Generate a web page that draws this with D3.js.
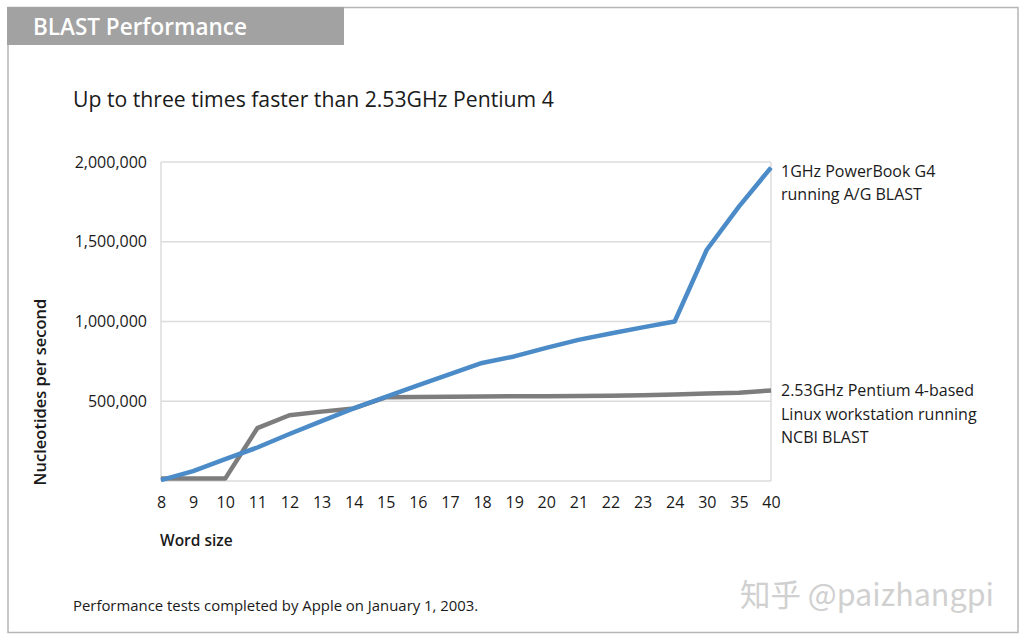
<!DOCTYPE html>
<html>
<head>
<meta charset="utf-8">
<script src="https://cdn.jsdelivr.net/npm/d3@7"></script>
<style>
  body { margin: 0; background: #fff; }
  svg text { font-family: "Open Sans", "Noto Sans", sans-serif; }
</style>
</head>
<body>
<svg id="chart"></svg>
<script>
// Word sizes on the x axis (categorical)
const wordSizes = ["8", "9", "10", "11", "12", "13", "14", "15", "16", "17", "18", "19", "20", "21", "22", "23", "24", "30", "35", "40"];

// Nucleotides per second
const powerBookValues = [5000, 62000, 137000, 210000, 295000, 375000, 455000, 528000, 600000, 670000, 740000, 781000, 835000, 885000, 925000, 963000, 1000000, 1450000, 1720000, 1965000];
const pentiumValues = [15000, 15000, 15000, 331000, 412000, 435000, 455000, 525000, 527000, 528000, 530000, 531000, 532000, 533000, 535000, 538000, 543000, 548000, 553000, 568000];

const yTicks = [500000, 1000000, 1500000, 2000000];

const seriesNames = [
    ["1GHz PowerBook G4", "running A/G BLAST"],
    ["2.53GHz Pentium 4-based", "Linux workstation running", "NCBI BLAST"]
];

const width = 1024, height = 641;
const margin = { top: 162, right: 253, bottom: 160, left: 161 };
const innerW = width - margin.left - margin.right;
const innerH = height - margin.top - margin.bottom;

const svg = d3.select("#chart").attr("width", width).attr("height", height);

// Outer frame
svg.append("rect")
    .attr("x", 8).attr("y", 7.5)
    .attr("width", 1010).attr("height", 625)
    .attr("fill", "none")
    .attr("stroke", "#b5b5b5")
    .attr("stroke-width", 1.5);

// Header band
svg.append("rect")
    .attr("x", 7).attr("y", 7)
    .attr("width", 337).attr("height", 38)
    .attr("fill", "#a2a2a2");

svg.append("text")
    .attr("x", 33).attr("y", 35)
    .attr("fill", "#fff")
    .attr("font-size", 22.5)
    .attr("font-weight", 600)
    .text("BLAST Performance");

svg.append("text")
    .attr("x", 73).attr("y", 107)
    .attr("fill", "#1a1a1a")
    .attr("font-size", 21.2)
    .text("Up to three times faster than 2.53GHz Pentium 4");

const chart = svg.append("g")
    .attr("transform", `translate(${margin.left},${margin.top})`);

const xScale = d3.scalePoint().domain(wordSizes).range([0, innerW]);
const yScale = d3.scaleLinear().domain([0, 2000000]).range([innerH, 0]);

// Gridlines and plot frame
chart.append("g")
    .selectAll("line")
    .data(yTicks.concat([0]))
    .join("line")
    .attr("x1", 0).attr("x2", innerW)
    .attr("y1", d => yScale(d)).attr("y2", d => yScale(d))
    .attr("stroke", "#dcdcdc")
    .attr("stroke-width", 1.5);

chart.append("g")
    .selectAll("line")
    .data([0, innerW])
    .join("line")
    .attr("x1", d => d).attr("x2", d => d)
    .attr("y1", 0).attr("y2", innerH)
    .attr("stroke", "#dcdcdc")
    .attr("stroke-width", 1.5);

// Y axis
const yAxis = d3.axisLeft(yScale)
    .tickValues(yTicks)
    .tickFormat(d3.format(","))
    .tickSize(0)
    .tickPadding(14);

chart.append("g")
    .call(yAxis)
    .call(g => g.select(".domain").remove())
    .call(g => g.selectAll("text")
        .attr("font-size", 16)
        .attr("fill", "#1a1a1a")
        .style("font-family", "'Open Sans', sans-serif"));

// X axis
const xAxis = d3.axisBottom(xScale).tickSize(0).tickPadding(16);

chart.append("g")
    .attr("transform", `translate(0,${innerH})`)
    .call(xAxis)
    .call(g => g.select(".domain").remove())
    .call(g => g.selectAll("text")
        .attr("font-size", 16)
        .attr("fill", "#1a1a1a")
        .style("font-family", "'Open Sans', sans-serif"));

// Axis titles
svg.append("text")
    .attr("transform", "translate(46,392) rotate(-90)")
    .attr("text-anchor", "middle")
    .attr("font-size", 16.5)
    .attr("font-weight", 600)
    .attr("fill", "#1a1a1a")
    .text("Nucleotides per second");

svg.append("text")
    .attr("x", 160).attr("y", 546)
    .attr("font-size", 15.5)
    .attr("font-weight", 600)
    .attr("fill", "#1a1a1a")
    .text("Word size");

// Lines
const line = d3.line()
    .x((d, i) => xScale(wordSizes[i]))
    .y(d => yScale(d));

chart.append("path")
    .datum(pentiumValues)
    .attr("fill", "none")
    .attr("stroke", "#7d7d7d")
    .attr("stroke-width", 4.5)
    .attr("stroke-linejoin", "round")
    .attr("d", line);

chart.append("path")
    .datum(powerBookValues)
    .attr("fill", "none")
    .attr("stroke", "#4b8bc8")
    .attr("stroke-width", 4.5)
    .attr("stroke-linejoin", "round")
    .attr("d", line);

// Series labels next to line ends
const labelX = innerW + 10;
const labelTops = [yScale(powerBookValues[19]) + 9, yScale(pentiumValues[19]) + 6];
seriesNames.forEach((lines, s) => {
    chart.append("text")
        .attr("x", labelX)
        .attr("y", labelTops[s])
        .attr("font-size", 16)
        .attr("fill", "#1a1a1a")
        .selectAll("tspan")
        .data(lines)
        .join("tspan")
        .attr("x", labelX)
        .attr("dy", (d, i) => i === 0 ? 0 : 23.5)
        .text(d => d);
});

// Footnote
svg.append("text")
    .attr("x", 73).attr("y", 611)
    .attr("font-size", 14.9)
    .attr("fill", "#1a1a1a")
    .text("Performance tests completed by Apple on January 1, 2003.");

// Watermark
svg.append("text")
    .attr("x", 740).attr("y", 606)
    .attr("font-size", 30.5)
    .attr("fill", "#d0d0d0")
    .style("font-family", "'Noto Sans CJK SC', 'Noto Sans', sans-serif")
    .text("知乎 @paizhangpi");
</script>
</body>
</html>
